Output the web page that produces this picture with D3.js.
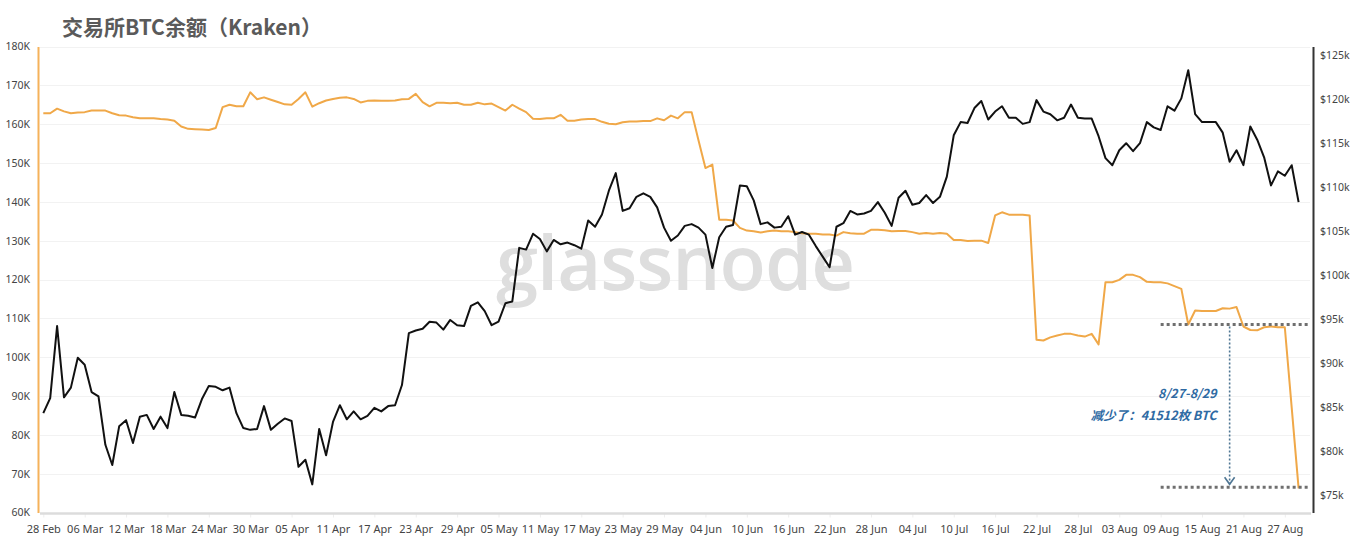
<!DOCTYPE html>
<html>
<head>
<meta charset="utf-8">
<script src="https://cdn.jsdelivr.net/npm/d3@7"></script>
<style>
  html, body { margin: 0; padding: 0; background: #fff; }
  svg { display: block; }
  .tick text { font-family: "Segoe UI", "Noto Sans", sans-serif; }
</style>
</head>
<body>
<svg id="chart" width="1361" height="559"></svg>
<script>
// ---------------- DATA ----------------
const title = "交易所BTC余额（Kraken）";
const startDate = "2025-02-28";
// Kraken exchange BTC balance (thousand BTC), daily from 28 Feb 2025
const balanceK = [
  162.8,162.8,164.0,163.3,162.8,163.0,163.1,163.5,163.5,163.5,
  162.8,162.3,162.2,161.8,161.5,161.5,161.5,161.3,161.2,160.9,
  159.4,158.8,158.7,158.6,158.5,159.0,164.4,165.0,164.6,164.6,
  168.2,166.4,166.9,166.3,165.7,165.1,165.0,166.5,168.2,164.5,
  165.4,166.1,166.5,166.8,166.9,166.5,165.6,166.0,166.1,166.0,
  166.0,166.1,166.4,166.5,167.8,165.7,164.6,165.5,165.5,165.4,
  165.5,165.0,165.0,165.5,165.1,165.3,164.4,163.5,165.0,164.0,
  163.1,161.4,161.3,161.5,161.5,162.4,160.9,160.9,161.2,161.3,
  161.3,160.6,160.1,160.0,160.5,160.7,160.7,160.8,160.8,161.5,
  161.0,162.2,161.5,163.1,163.1,155.8,148.7,149.6,135.4,135.4,
  135.2,133.3,132.6,132.4,132.1,132.4,132.6,132.4,132.4,132.2,
  131.9,131.8,131.8,131.6,131.6,131.3,132.2,131.9,131.8,131.8,
  132.8,132.8,132.7,132.4,132.5,132.5,132.2,131.8,132.0,131.8,
  132.0,131.8,130.2,130.2,129.9,130.0,130.0,129.4,136.5,137.3,
  136.7,136.7,136.7,136.5,104.5,104.3,105.1,105.6,106.0,106.0,
  105.6,105.3,106.0,103.3,119.3,119.3,119.9,121.2,121.2,120.6,
  119.4,119.3,119.3,119.0,118.3,117.6,108.4,112.0,111.9,111.9,
  111.9,112.6,112.5,112.9,107.9,107.0,106.9,107.7,107.9,107.7,
  107.7,87.0,66.2
];
// BTC price (thousand USD), daily from 28 Feb 2025
const priceK = [
  84.3,86.0,94.2,86.1,87.2,90.6,89.8,86.7,86.2,80.7,
  78.4,82.8,83.5,80.9,83.9,84.1,82.5,83.9,82.6,86.7,
  84.1,84.0,83.8,85.9,87.4,87.3,86.9,87.2,84.3,82.6,
  82.4,82.5,85.1,82.4,83.1,83.7,83.4,78.2,79.0,76.2,
  82.5,79.5,83.3,85.2,83.6,84.5,83.6,84.0,84.9,84.5,
  85.1,85.2,87.5,93.4,93.7,93.9,94.7,94.6,93.8,94.9,
  94.3,94.2,96.5,96.9,95.9,94.3,94.7,96.8,97.0,103.1,
  102.9,104.7,104.1,102.7,104.0,103.5,103.7,103.4,103.0,106.2,
  105.5,106.9,109.6,111.6,107.3,107.6,108.9,109.3,108.9,107.7,
  105.4,103.9,104.5,105.6,105.8,105.4,104.6,100.8,104.3,105.5,
  105.7,110.2,110.1,108.5,105.8,106.0,105.4,105.5,106.7,104.6,
  104.9,104.6,103.3,102.1,100.9,105.5,105.9,107.3,106.9,107.0,
  107.3,108.3,107.1,105.6,108.8,109.6,108.0,108.2,109.1,108.2,
  108.9,111.2,115.9,117.4,117.3,119.0,119.8,117.7,118.6,119.2,
  117.9,117.9,117.2,117.4,119.9,118.6,118.3,117.6,117.9,119.4,
  117.9,117.8,117.8,115.8,113.3,112.5,114.2,115.0,114.1,115.0,
  117.4,116.8,116.5,119.2,118.7,120.1,123.3,118.3,117.4,117.4,
  117.4,116.2,112.9,114.2,112.5,116.9,115.4,113.4,110.2,111.8,
  111.3,112.5,108.3
];
const leftTicks = [60,70,80,90,100,110,120,130,140,150,160,170,180];
const rightTicks = [75,80,85,90,95,100,105,110,115,120,125];
const xTickDates = ["2025-02-28","2025-03-06","2025-03-12","2025-03-18","2025-03-24","2025-03-30",
  "2025-04-05","2025-04-11","2025-04-17","2025-04-23","2025-04-29","2025-05-05","2025-05-11",
  "2025-05-17","2025-05-23","2025-05-29","2025-06-04","2025-06-10","2025-06-16","2025-06-22",
  "2025-06-28","2025-07-04","2025-07-10","2025-07-16","2025-07-22","2025-07-28","2025-08-03",
  "2025-08-09","2025-08-15","2025-08-21","2025-08-27"];
// annotation
const annotFrom = "2025-08-09";
const annotArrowDate = "2025-08-19";
const annotTopK = 108.4;
const annotBottomK = 66.5;
const annotLines = ["8/27-8/29", "减少了：41512枚 BTC"];
const watermark = "glassnode";

// ---------------- CHART ----------------
const svg = d3.select("#chart");
const parse = d3.utcParse("%Y-%m-%d");
const d0 = parse(startDate);
const dates = balanceK.map((_, i) => d3.utcDay.offset(d0, i));
const bal = balanceK.map((v, i) => ({ d: dates[i], v }));
const prc = priceK.map((v, i) => ({ d: dates[i], v }));

const plotL = 38, plotR = 1313, plotT = 46.5, plotB = 512.5;
const x = d3.scaleUtc().domain([dates[0], dates[dates.length - 1]]).range([43.3, 1298.6]);
const yL = d3.scaleLinear().domain([60, 180]).range([plotB, plotT]);
const yR = d3.scaleLinear().domain([73.0, 126.0]).range([plotB, plotT]);

// title
svg.append("text").attr("x", 62).attr("y", 35)
  .attr("font-family", "'Noto Sans CJK SC', sans-serif").attr("font-weight", "bold")
  .attr("font-size", 21).attr("fill", "#5a5a5a").text(title);

// gridlines
svg.append("g").selectAll("line").data(leftTicks.slice(1)).join("line")
  .attr("x1", plotL + 2).attr("x2", plotR - 3)
  .attr("y1", d => Math.round(yL(d)) + 0.5).attr("y2", d => Math.round(yL(d)) + 0.5)
  .attr("stroke", "#f2f2f2").attr("stroke-width", 1);

// watermark
svg.append("text").attr("x", 675).attr("y", 290).attr("text-anchor", "middle")
  .attr("font-family", "'Open Sans', 'Noto Sans', sans-serif").attr("font-weight", 600)
  .attr("font-size", 76).attr("fill", "#dedede").attr("letter-spacing", -1).text(watermark);

// bottom axis
const xAxis = d3.axisBottom(x).tickValues(xTickDates.map(parse))
  .tickFormat(d3.utcFormat("%d %b")).tickSize(4).tickPadding(8);
const gx = svg.append("g").attr("transform", `translate(0,${plotB + 1})`).call(xAxis);
gx.select(".domain").remove();
gx.selectAll(".tick line").attr("stroke", "#eeeeee");
gx.selectAll(".tick text").attr("font-size", 11).attr("fill", "#444");
svg.append("line").attr("x1", plotL + 2).attr("x2", plotR - 2)
  .attr("y1", plotB + 1).attr("y2", plotB + 1).attr("stroke", "#dcdcdc").attr("stroke-width", 2.5);

// left axis
const gl = svg.append("g").attr("transform", `translate(${plotL},0)`)
  .call(d3.axisLeft(yL).tickValues(leftTicks).tickFormat(d => d + "K").tickSize(0).tickPadding(8));
gl.select(".domain").attr("stroke", "#f5b25a").attr("stroke-width", 2);
gl.selectAll(".tick text").attr("font-size", 10.5).attr("fill", "#444");

// right axis
const gr = svg.append("g").attr("transform", `translate(${plotR},0)`)
  .call(d3.axisRight(yR).tickValues(rightTicks).tickFormat(d => "$" + d + "k").tickSize(0).tickPadding(7));
gr.select(".domain").attr("stroke", "#333").attr("stroke-width", 2);
gr.selectAll(".tick text").attr("font-size", 10.5).attr("fill", "#444");

// lines
const lineL = d3.line().x(d => x(d.d)).y(d => yL(d.v));
const lineR = d3.line().x(d => x(d.d)).y(d => yR(d.v));
svg.append("path").datum(bal).attr("d", lineL).attr("fill", "none")
  .attr("stroke", "#f0a848").attr("stroke-width", 2).attr("stroke-linejoin", "round");
svg.append("path").datum(prc).attr("d", lineR).attr("fill", "none")
  .attr("stroke", "#111").attr("stroke-width", 2).attr("stroke-linejoin", "round");

// annotation
const ax0 = x(parse(annotFrom)), ax1 = plotR - 3;
const yTop = yL(annotTopK), yBot = yL(annotBottomK);
[yTop, yBot].forEach(yy => {
  svg.append("line").attr("x1", ax0).attr("x2", ax1).attr("y1", yy).attr("y2", yy)
    .attr("stroke", "#6f6f6f").attr("stroke-width", 3).attr("stroke-dasharray", "3,3");
});
const axA = x(parse(annotArrowDate));
svg.append("line").attr("x1", axA).attr("x2", axA).attr("y1", yTop + 2).attr("y2", yBot - 3)
  .attr("stroke", "#4f7693").attr("stroke-width", 1.6).attr("stroke-dasharray", "2,2");
svg.append("path").attr("d", `M${axA - 5},${yBot - 10}L${axA},${yBot - 3}L${axA + 5},${yBot - 10}`)
  .attr("fill", "none").attr("stroke", "#4f7693").attr("stroke-width", 1.6);
svg.append("g").selectAll("text").data(annotLines).join("text")
  .attr("x", axA - 13).attr("y", (d, i) => 398 + i * 22)
  .attr("text-anchor", "end")
  .attr("font-family", "'Noto Sans CJK SC', sans-serif").attr("font-weight", "bold")
  .attr("font-style", "italic").attr("font-size", 12.5).attr("fill", "#2e6aa3")
  .text(d => d);
</script>
</body>
</html>
